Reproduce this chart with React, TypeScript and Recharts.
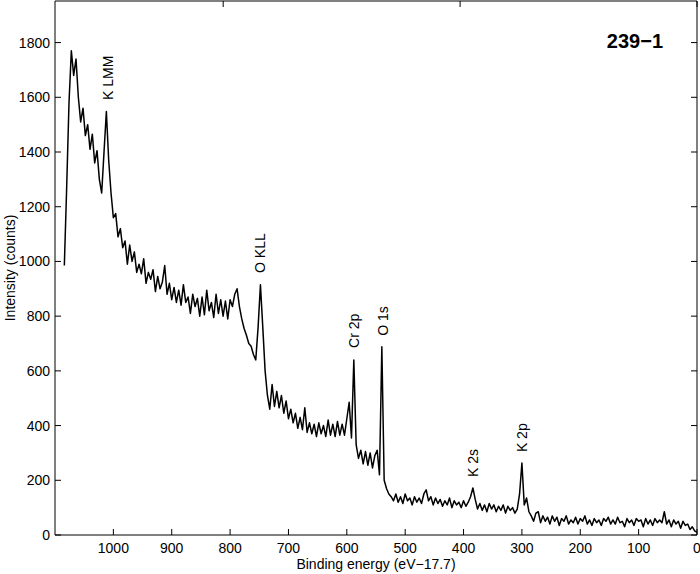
import { Line, LineChart, ReferenceDot, XAxis, YAxis } from 'recharts';

// binding energy (eV - 17.7), every 4 eV
const energy = [
  1084, 1080, 1076, 1072, 1068, 1064, 1060, 1056, 1052, 1048,
  1044, 1040, 1036, 1032, 1028, 1024, 1020, 1016, 1012, 1008,
  1004, 1000, 996, 992, 988, 984, 980, 976, 972, 968,
  964, 960, 956, 952, 948, 944, 940, 936, 932, 928,
  924, 920, 916, 912, 908, 904, 900, 896, 892, 888,
  884, 880, 876, 872, 868, 864, 860, 856, 852, 848,
  844, 840, 836, 832, 828, 824, 820, 816, 812, 808,
  804, 800, 796, 792, 788, 784, 780, 776, 772, 768,
  764, 760, 756, 752, 748, 744, 740, 736, 732, 728,
  724, 720, 716, 712, 708, 704, 700, 696, 692, 688,
  684, 680, 676, 672, 668, 664, 660, 656, 652, 648,
  644, 640, 636, 632, 628, 624, 620, 616, 612, 608,
  604, 600, 596, 592, 588, 584, 580, 576, 572, 568,
  564, 560, 556, 552, 548, 544, 540, 536, 532, 528,
  524, 520, 516, 512, 508, 504, 500, 496, 492, 488,
  484, 480, 476, 472, 468, 464, 460, 456, 452, 448,
  444, 440, 436, 432, 428, 424, 420, 416, 412, 408,
  404, 400, 396, 392, 388, 384, 380, 376, 372, 368,
  364, 360, 356, 352, 348, 344, 340, 336, 332, 328,
  324, 320, 316, 312, 308, 304, 300, 296, 292, 288,
  284, 280, 276, 272, 268, 264, 260, 256, 252, 248,
  244, 240, 236, 232, 228, 224, 220, 216, 212, 208,
  204, 200, 196, 192, 188, 184, 180, 176, 172, 168,
  164, 160, 156, 152, 148, 144, 140, 136, 132, 128,
  124, 120, 116, 112, 108, 104, 100, 96, 92, 88,
  84, 80, 76, 72, 68, 64, 60, 56, 52, 48,
  44, 40, 36, 32, 28, 24, 20, 16, 12, 8,
  4, 0,
];

// intensity (counts)
const counts = [
  985, 1270, 1580, 1770, 1680, 1740, 1600, 1510, 1560, 1460,
  1500, 1410, 1465, 1360, 1405, 1300, 1250, 1400, 1548, 1370,
  1250, 1160, 1175, 1090, 1120, 1050, 1075, 990, 1060, 1000,
  1035, 960, 990, 955, 1010, 920, 960, 935, 970, 890,
  945, 900, 925, 985, 880, 920, 860, 905, 850, 895,
  840, 915, 850, 870, 810, 880, 835, 865, 800, 870,
  805, 895, 820, 850, 795, 880, 810, 860, 800, 855,
  790, 860, 835, 880, 900, 835, 790, 755, 730, 700,
  690, 660, 640, 760, 915, 760, 600, 510, 460, 550,
  470, 525, 465, 510, 445, 490, 425, 460, 410, 445,
  390, 430, 385, 465, 375, 410, 370, 405, 360, 410,
  370, 400, 360, 420, 365, 405, 360, 415, 365, 405,
  365, 425, 485, 355, 640, 330, 280, 310, 260, 305,
  255, 300, 245, 290, 310, 220, 688, 200, 170, 150,
  140, 125, 150, 120, 140, 115, 150, 125, 135, 110,
  140, 120, 135, 115, 150, 165, 125, 140, 110, 135,
  115, 130, 105, 125, 110, 135, 100, 125, 110, 120,
  100, 125, 105, 120, 140, 172, 130, 95, 115, 90,
  110, 85, 115, 95, 110, 85, 105, 90, 110, 80,
  105, 90, 100, 80, 95, 150, 263, 110, 135, 85,
  70, 50, 80, 85, 45, 70, 50, 65, 40, 70,
  50, 65, 35, 60, 50, 70, 40, 55, 45, 65,
  40, 60, 50, 70, 40, 55, 35, 60, 45, 55,
  35, 60, 50, 65, 40, 55, 40, 65, 45, 50,
  30, 60, 45, 55, 35, 60, 50, 55, 30, 60,
  40, 55, 35, 60, 45, 55, 45, 85, 40, 55,
  30, 55, 40, 50, 25, 50, 35, 40, 20, 30,
  15, 10,
];

// peak annotations: name, energy and intensity where the text starts
const peakNames = ['K LMM', 'O KLL', 'Cr 2p', 'O 1s', 'K 2s', 'K 2p'];
const peakEnergy = [1009, 748, 587, 537, 384, 300];
const peakLabelAt = [1590, 958, 684, 728, 212, 303];

const xTicks = [1000, 900, 800, 700, 600, 500, 400, 300, 200, 100, 0];
const yTicks = [0, 200, 400, 600, 800, 1000, 1200, 1400, 1600, 1800];

const data = energy.map((e, i) => ({ e, c: counts[i] }));

const FONT = '"Liberation Sans", Arial, Helvetica, sans-serif';
const TICK_LEN = 6;

const BottomTick = ({ x, y, payload }: any) => (
  <g>
    <line x1={x} y1={y} x2={x} y2={y - TICK_LEN} stroke="#000" />
    <text x={x} y={y + 18} textAnchor="middle" fontSize={14} fontFamily={FONT} fill="#000">
      {payload.value}
    </text>
  </g>
);

const TopTick = ({ x, y }: any) => (
  <line x1={x} y1={y} x2={x} y2={y + TICK_LEN} stroke="#000" />
);

const LeftTick = ({ x, y, payload }: any) => (
  <g>
    <line x1={x} y1={y} x2={x + TICK_LEN} y2={y} stroke="#000" />
    <text x={x - 5} y={y + 5} textAnchor="end" fontSize={14} fontFamily={FONT} fill="#000">
      {payload.value}
    </text>
  </g>
);

const RightTick = ({ x, y }: any) => (
  <line x1={x} y1={y} x2={x - TICK_LEN} y2={y} stroke="#000" />
);

const peakShape = (name: string) => (p: any) => (
  <text
    x={p.cx}
    y={p.cy}
    dy="0.35em"
    transform={`rotate(-90 ${p.cx} ${p.cy})`}
    textAnchor="start"
    fontSize={14}
    fontFamily={FONT}
    fill="#000"
  >
    {name}
  </text>
);

export default function App() {
  return (
    <div style={{ position: 'relative', width: 700, height: 574, background: '#fff' }}>
      <style>{'body{margin:0}'}</style>
      <LineChart
        width={700}
        height={574}
        data={data}
        margin={{ top: 0, right: 0, bottom: 0, left: 0 }}
      >
        <XAxis
          xAxisId="b"
          dataKey="e"
          type="number"
          domain={[0, 1100]}
          reversed
          allowDataOverflow
          ticks={xTicks}
          interval={0}
          height={39}
          tickSize={0}
          tickMargin={0}
          tickLine={false}
          axisLine={{ stroke: '#000' }}
          tick={<BottomTick />}
          label={{
            value: 'Binding energy (eV\u221217.7)',
            position: 'insideBottom',
            offset: 5,
            fontSize: 14,
            fontFamily: FONT,
            fill: '#000',
          }}
        />
        <XAxis
          xAxisId="t"
          orientation="top"
          type="number"
          domain={[0, 1100]}
          reversed
          allowDataOverflow
          ticks={xTicks}
          interval={0}
          height={1}
          tickSize={0}
          tickMargin={0}
          tickLine={false}
          axisLine={{ stroke: '#000' }}
          tick={<TopTick />}
        />
        <YAxis
          yAxisId="l"
          type="number"
          domain={[0, 1952]}
          allowDataOverflow
          ticks={yTicks}
          interval={0}
          width={55}
          tickSize={0}
          tickMargin={0}
          tickLine={false}
          axisLine={{ stroke: '#000' }}
          tick={<LeftTick />}
          label={{
            value: 'Intensity (counts)',
            angle: -90,
            position: 'insideLeft',
            offset: 10,
            style: { textAnchor: 'middle' },
            fontSize: 14,
            fontFamily: FONT,
            fill: '#000',
          }}
        />
        <YAxis
          yAxisId="r"
          orientation="right"
          type="number"
          domain={[0, 1952]}
          allowDataOverflow
          ticks={yTicks}
          interval={0}
          width={3}
          tickSize={0}
          tickMargin={0}
          tickLine={false}
          axisLine={{ stroke: '#000' }}
          tick={<RightTick />}
        />
        <Line
          xAxisId="b"
          yAxisId="l"
          type="linear"
          dataKey="c"
          stroke="#000"
          strokeWidth={1.5}
          strokeLinejoin="round"
          dot={false}
          isAnimationActive={false}
        />
        {peakNames.map((name, i) => (
          <ReferenceDot
            key={name}
            xAxisId="b"
            yAxisId="l"
            x={peakEnergy[i]}
            y={peakLabelAt[i]}
            r={1}
            ifOverflow="visible"
            shape={peakShape(name)}
          />
        ))}
      </LineChart>
      <svg
        width={700}
        height={574}
        style={{ position: 'absolute', left: 0, top: 0, pointerEvents: 'none' }}
      >
        <text x={663} y={48} textAnchor="end" fontSize={20} fontWeight="bold" fontFamily={FONT} fill="#000">
          239{'\u2212'}1
        </text>
      </svg>
    </div>
  );
}
